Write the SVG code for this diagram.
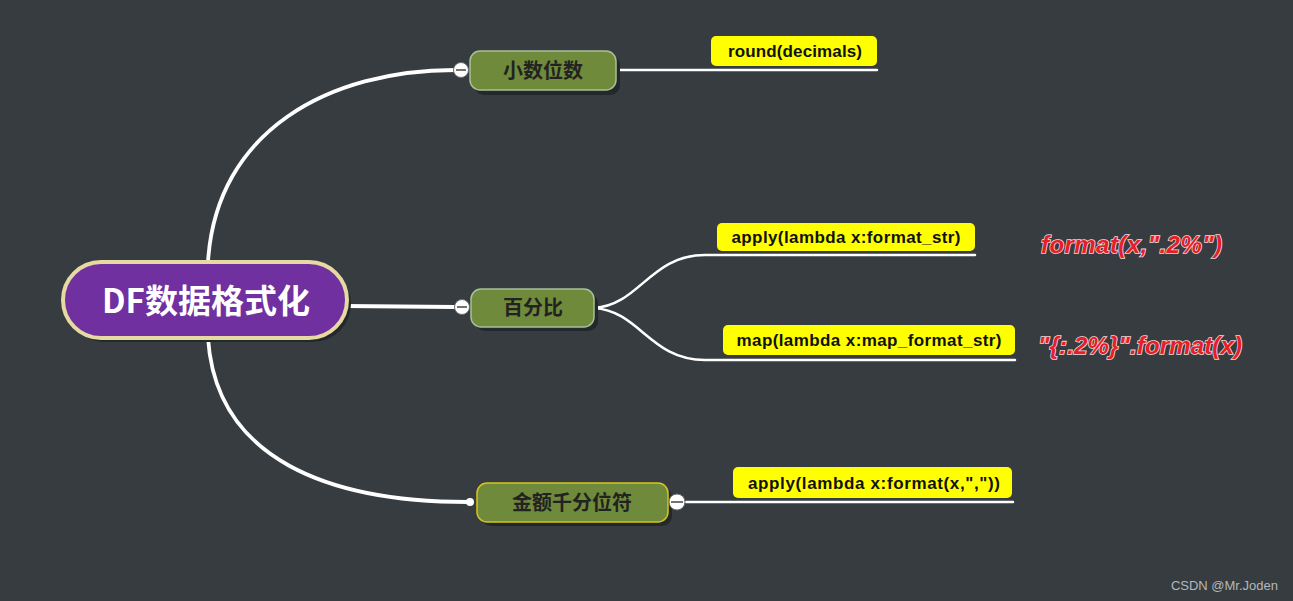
<svg xmlns="http://www.w3.org/2000/svg" width="1293" height="601" viewBox="0 0 1293 601">
<defs>
<style>
.bg{fill:#363c40}
.wire{fill:none;stroke:#ffffff;stroke-linecap:round}
.main{stroke-width:3.8}
.sub{stroke-width:2.5}
.shadow{fill:#23282b}
.topic{fill:#6f8a3a;stroke:#a9c09a;stroke-width:1.5}
.topic2{fill:#6f8a3a;stroke:#d7c51c;stroke-width:1.5}
.ttext{font-family:"Noto Sans CJK SC","Microsoft YaHei",sans-serif;font-weight:bold;font-size:20px;fill:#222222;text-anchor:middle}
.label{fill:#ffff00}
.ltext{font-family:"Liberation Sans","Noto Sans",sans-serif;font-weight:bold;font-size:17px;fill:#111111;text-anchor:middle}
.red{font-family:"Liberation Sans","Noto Sans",sans-serif;font-weight:bold;font-style:italic;font-size:24px;fill:#e41e2a;stroke:#f6d6d6;stroke-width:1.6;paint-order:stroke}
.knob{fill:#ffffff;stroke:#6a6a6a;stroke-width:1}
.minus{stroke:#444;stroke-width:1.5}
</style>
</defs>
<rect class="bg" x="0" y="0" width="1293" height="601"/>
<g id="connectors">
<path class="wire main" d="M208,262 C216,130 330,70 455,70"/>
<path class="wire main" d="M345,306 L455,307"/>
<path class="wire main" d="M208,338 C216,460 330,502 468,502"/>
<path class="wire sub" d="M616,70 L877,70"/>
<path class="wire sub" d="M594,308 C640,305 650,255 705,255 L975,255"/>
<path class="wire sub" d="M594,308 C640,311 650,360 705,360 L1015,360"/>
<path class="wire sub" d="M686,502 L1013,502"/>
</g>
<g id="root">
<rect class="shadow" x="66" y="266" width="285" height="76" rx="38"/>
<rect x="63" y="262" width="284" height="76" rx="38" fill="#7030a0" stroke="#e6d9a2" stroke-width="4"/>
<text x="206" y="313" font-family="Noto Sans CJK SC,sans-serif" font-weight="bold" font-size="33" fill="#ffffff" text-anchor="middle">DF数据格式化</text>
</g>
<g id="n1">
<rect class="shadow" x="474" y="55" width="146" height="40" rx="10"/>
<rect class="topic" x="470" y="51" width="146" height="39" rx="10"/>
<text class="ttext" x="543" y="78">小数位数</text>
<circle class="knob" cx="461" cy="70" r="7.5"/>
<line class="minus" x1="456" y1="70" x2="466" y2="70"/>
</g>
<g id="n2">
<rect class="shadow" x="475" y="293" width="123" height="38" rx="10"/>
<rect class="topic" x="471" y="289" width="123" height="38" rx="10"/>
<text class="ttext" x="533" y="315">百分比</text>
<circle class="knob" cx="462" cy="307" r="7.5"/>
<line class="minus" x1="457" y1="307" x2="467" y2="307"/>
</g>
<g id="n3">
<rect class="shadow" x="481" y="487" width="191" height="39" rx="10"/>
<rect class="topic2" x="477" y="483" width="191" height="39" rx="10"/>
<text class="ttext" x="572" y="510">金额千分位符</text>
<circle cx="470" cy="502" r="4" fill="#ffffff"/>
<circle class="knob" cx="677" cy="502" r="8"/>
<line class="minus" x1="671" y1="502" x2="683" y2="502"/>
</g>
<g id="l1">
<rect class="label" x="711" y="36" width="166" height="30" rx="5"/>
<text class="ltext" x="795" y="57" textLength="134">round(decimals)</text>
</g>
<g id="l2">
<rect class="label" x="717" y="223" width="258" height="28" rx="5"/>
<text class="ltext" x="846" y="243" textLength="229">apply(lambda x:format_str)</text>
</g>
<g id="l3">
<rect class="label" x="723" y="325" width="292" height="30" rx="5"/>
<text class="ltext" x="869" y="346" textLength="265">map(lambda x:map_format_str)</text>
</g>
<g id="l4">
<rect class="label" x="733" y="467" width="279" height="31" rx="5"/>
<text class="ltext" x="874" y="489" textLength="252">apply(lambda x:format(x,","))</text>
</g>
<g id="notes">
<text class="red" x="1041" y="253" textLength="181">format(x,".2%")</text>
<text class="red" x="1038" y="354" textLength="204">"{:.2%}".format(x)</text>
</g>
<text x="1278" y="590" font-family="Liberation Sans,sans-serif" font-size="13" fill="#b4b8ba" text-anchor="end">CSDN @Mr.Joden</text>
</svg>
